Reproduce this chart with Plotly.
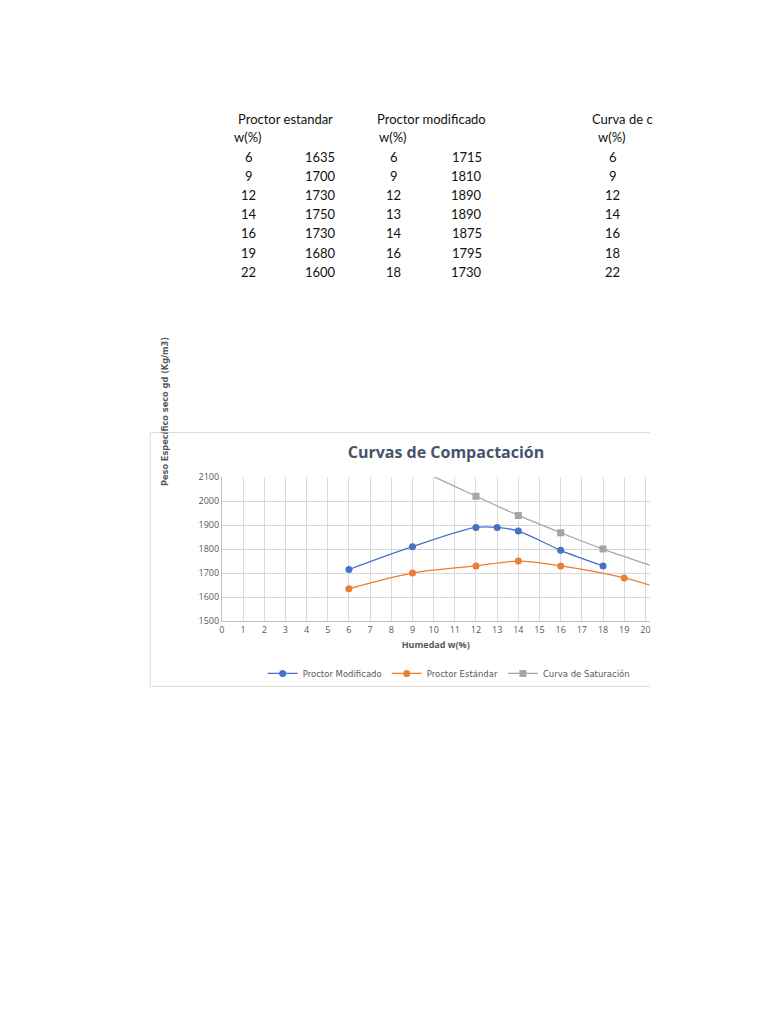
import plotly.graph_objects as go

# ---------------- data ----------------
w_std = [6, 9, 12, 14, 16, 19, 22]
gd_std = [1635, 1700, 1730, 1750, 1730, 1680, 1600]

w_mod = [6, 9, 12, 13, 14, 16, 18]
gd_mod = [1715, 1810, 1890, 1890, 1875, 1795, 1730]

w_sat = [6, 9, 12, 14, 16, 18, 22]
gd_sat = [2290, 2145, 2020, 1940, 1868, 1800, 1680]  # estimated from the chart

x_ticks = list(range(0, 21))
y_ticks = [1500, 1600, 1700, 1800, 1900, 2000, 2100]

# page body has an 8px margin; figure sized to fit the window
OFF = 8
W, H = 760, 1016


def px(x):
    return (x - OFF) / W


def py(y):
    return 1 - (y - OFF) / H


fig = go.Figure()

fig.add_trace(go.Scatter(
    x=w_mod, y=gd_mod, name="Proctor Modificado", mode="lines+markers",
    line=dict(color="#4472C4", width=1.3, shape="spline", smoothing=0.9),
    marker=dict(color="#4472C4", size=7, symbol="circle"),
))
fig.add_trace(go.Scatter(
    x=w_std, y=gd_std, name="Proctor Estándar", mode="lines+markers",
    line=dict(color="#ED7D31", width=1.3, shape="spline", smoothing=0.9),
    marker=dict(color="#ED7D31", size=7, symbol="circle"),
))
fig.add_trace(go.Scatter(
    x=w_sat, y=gd_sat, name="Curva de Saturación", mode="lines+markers",
    line=dict(color="#A5A5A5", width=1.3, shape="spline", smoothing=0.9),
    marker=dict(color="#A5A5A5", size=7, symbol="square"),
))

chart_font = "Open Sans"
tick_col = "#595959"

fig.update_layout(
    width=W, height=H,
    margin=dict(l=0, r=0, t=0, b=0),
    paper_bgcolor="white", plot_bgcolor="white",
    font=dict(family=chart_font, color=tick_col),
    title=dict(text="<b>Curvas de Compactación</b>", x=px(446), y=py(452),
               xanchor="center", yanchor="middle",
               font=dict(size=16, color="#44546A", family=chart_font)),
    xaxis=dict(domain=[px(220), px(650)], range=[0, 20.2],
               tickvals=x_ticks, ticktext=[str(t) for t in x_ticks],
               showgrid=True, gridcolor="#D9D9D9", gridwidth=1,
               showline=True, linecolor="#BFBFBF", linewidth=1,
               zeroline=False, ticks="", tickfont=dict(size=9, color=tick_col),
               title=dict(text="<b>Humedad w(%)</b>", font=dict(size=9, color=tick_col),
                          standoff=6)),
    yaxis=dict(domain=[py(622), py(476)], range=[1500, 2100],
               tickvals=y_ticks, showgrid=True, gridcolor="#D9D9D9", gridwidth=1,
               showline=True, linecolor="#BFBFBF", linewidth=1,
               zeroline=False, ticks="", tickfont=dict(size=9, color=tick_col)),
    legend=dict(orientation="h", x=px(448), y=py(675), xanchor="center", yanchor="middle",
                font=dict(size=8.5, color=tick_col, family="DejaVu Sans"),
                bgcolor="rgba(0,0,0,0)", itemwidth=30),
    showlegend=True,
)

# chart border (clipped on the right by the page edge)
border = "#D9D9D9"
fig.add_shape(type="line", xref="paper", yref="paper", x0=px(148), x1=px(650),
              y0=py(431), y1=py(431), line=dict(color=border, width=1))
fig.add_shape(type="line", xref="paper", yref="paper", x0=px(148), x1=px(650),
              y0=py(688), y1=py(688), line=dict(color=border, width=1))
fig.add_shape(type="line", xref="paper", yref="paper", x0=px(148), x1=px(148),
              y0=py(431), y1=py(688), line=dict(color=border, width=1))
# page clipping on the right
fig.add_shape(type="rect", xref="paper", yref="paper", x0=px(651), x1=1,
              y0=py(690), y1=py(425), line=dict(width=0), fillcolor="white", layer="above")

# y axis title (placed above the chart as in the reference)
fig.add_annotation(text="<b>Peso Específico seco gd (Kg/m3)</b>", xref="paper", yref="paper",
                   x=px(163), y=py(410), textangle=-90, showarrow=False,
                   xanchor="center", yanchor="middle",
                   font=dict(size=8.2, color=tick_col, family="DejaVu Sans"))

# ---------------- table ----------------
tfont = dict(family="Lato", size=13, color="#111111")
TY = -5  # small vertical correction for the text box
headers = [("Proctor estandar", 234), ("Proctor modificado", 374), ("Curva de c", 590)]
for txt, x in headers:
    fig.add_annotation(text=txt, xref="paper", yref="paper", x=px(x), y=py(118 + TY),
                       xanchor="left", yanchor="middle", showarrow=False, font=tfont)
for x in [230, 376, 596]:
    fig.add_annotation(text="w(%)", xref="paper", yref="paper", x=px(x), y=py(137 + TY),
                       xanchor="left", yanchor="middle", showarrow=False, font=tfont)

row_y = [157, 176, 195, 215, 234, 254, 273]
columns = [(w_std, 247), (gd_std, 319), (w_mod, 393), (gd_mod, 466), (w_sat, 613)]
for vals, cx in columns:
    for v, ry in zip(vals, row_y):
        fig.add_annotation(text=str(v), xref="paper", yref="paper", x=px(cx), y=py(ry + TY),
                           xanchor="center", yanchor="middle", showarrow=False, font=tfont)

fig.write_html("out.html")
